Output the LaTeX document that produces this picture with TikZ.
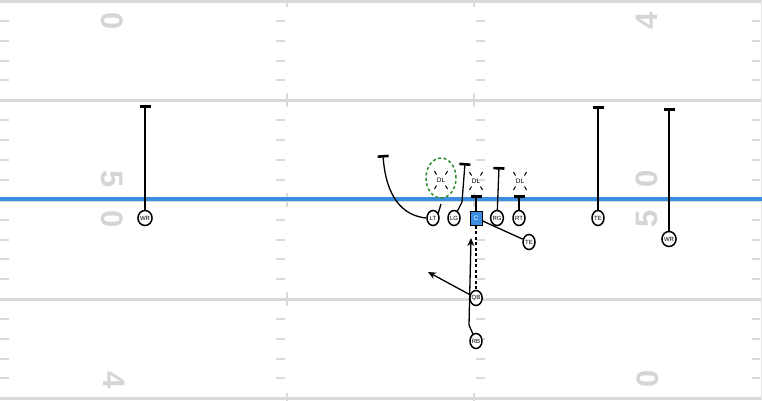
\documentclass[tikz,border=0pt]{standalone}
\usepackage{fontspec}
\setmainfont{Liberation Sans}
\usetikzlibrary{shapes.geometric,arrows.meta,calc}
\definecolor{fieldgray}{HTML}{D9D9D9}
\definecolor{hashgray}{HTML}{DADADA}
\definecolor{numgray}{HTML}{D5D5D5}
\definecolor{los}{HTML}{3A8FE3}
\definecolor{zonegreen}{HTML}{2E8B2E}
\pgfdeclarelayer{bg}
\pgfdeclarelayer{routes}
\pgfsetlayers{bg,routes,main}
\tikzset{
  yardline/.style={fieldgray, line width=3pt},
  hashmark/.style={hashgray, line width=2pt},
  ydtick/.style={hashgray, line width=1.2pt},
  num/.style={numgray, font=\fontsize{31}{31}\selectfont\bfseries, inner sep=0pt},
  player/.style={ellipse, draw, line width=1.5pt, fill=white, minimum width=12pt, minimum height=15pt, inner sep=0pt, font=\fontsize{6}{6}\selectfont},
  center/.style={rectangle, draw, line width=1pt, fill=los, text=white, minimum width=12pt, minimum height=14pt, inner sep=0pt, font=\fontsize{6.5}{6.5}\selectfont},
  defender/.style={inner sep=0pt, font=\fontsize{6.5}{6.5}\selectfont},
  route/.style={black, line width=1.3pt},
  blockend/.style={-{Bar[width=11pt,line width=2.6pt]}},
  runarrow/.style={-{Stealth[length=8pt,width=7pt]}},
  zone/.style={ellipse, draw=zonegreen, dash pattern=on 3pt off 2.5pt, line width=1.5pt, minimum width=30pt, minimum height=40pt, inner sep=0pt},
  motion/.style={black, line width=2.6pt, dash pattern=on 3pt off 2.5pt}
}
\begin{document}
\begin{tikzpicture}[x=1pt,y=-1pt]
\useasboundingbox (0,0) rectangle (762,400);
\begin{pgfonlayer}{bg}
\fill[white] (0,0) rectangle (762,400);
\foreach \y in {1.5,100,200,299,398.5} \draw[yardline] (0,\y) -- (762,\y);
\draw[fieldgray!70, line width=1pt] (761.5,0) -- (761.5,400);
\foreach \y in {21,41,61,80,120,140,160,180,220,240,259,279,319,339,359,378} {
  \draw[hashmark] (0,\y) -- (9,\y);
  \draw[hashmark] (276,\y) -- (285,\y);
  \draw[hashmark] (476,\y) -- (485,\y);
  \draw[hashmark] (752,\y) -- (760,\y);
}
\foreach \y in {0,100,200,299,400} {
  \draw[ydtick] (287,\y-7) -- (287,\y+7);
  \draw[ydtick] (474,\y-7) -- (474,\y+7);
}
\node[num, rotate=-90] (n1) at (112,21) {0};
\node[num, rotate=-90] (n2) at (112,179) {5};
\node[num, rotate=-90] (n3) at (112,219) {0};
\node[num, rotate=-90] (n4) at (114,380) {4};
\node[num, rotate=90] (n5) at (647,21) {4};
\node[num, rotate=90] (n6) at (647,179) {0};
\node[num, rotate=90] (n7) at (647,219) {5};
\node[num, rotate=90] (n8) at (648,379) {0};
\draw[los, line width=3.5pt] (0,199) -- (762,199);
\end{pgfonlayer}

% offense
\node[player] (wrl) at (145,218) {WR};
\node[player] (lt) at (433,218) {LT};
\node[player] (lg) at (454,218) {LG};
\node[center] (c) at (476,218) {C};
\node[player] (rg) at (497,218) {RG};
\node[player] (rt) at (519,218) {RT};
\node[player] (te2) at (529,242) {TE};
\node[player] (ter) at (598,218) {TE};
\node[player] (wrr) at (669,239) {WR};
\node[player] (qb) at (476,298) {QB};
\node[player] (rb) at (476,341) {RB};

% defense
\node[defender] (dl1) at (441,180) {DL};
\node[defender] (dl2) at (476,181) {DL};
\node[defender] (dl3) at (520,181) {DL};
\node[zone] (z1) at (441,178) {};

% route ends
\coordinate (wrlE) at (145,105);
\coordinate (ltE) at (383,155);
\coordinate (lgK) at (462,202);
\coordinate (lgE) at (465,163);
\coordinate (cE) at (476,195);
\coordinate (rgE) at (499,167);
\coordinate (rtE) at (519,195);
\coordinate (terE) at (598,106);
\coordinate (wrrE) at (669,108);
\coordinate (qbE) at (428,272);
\coordinate (rbK) at (469,325);
\coordinate (rbE) at (471,238);
\coordinate (tkA) at (438,214);
\coordinate (tkB) at (441,204);

\begin{pgfonlayer}{routes}
\foreach \d in {dl1,dl2,dl3} {
  \foreach \sx/\sy in {1/1,1/-1,-1/1,-1/-1}
    \draw[line width=1pt] ($(\d)+(\sx*4.5,\sy*5.5)$) -- ($(\d)+(\sx*6.5,\sy*9)$);
}
\draw[route, blockend] (wrl) -- (wrlE);
\draw[route, blockend] (lt.west) .. controls (395,215) and (385,185) .. (ltE);
\draw[route] (tkA) -- (tkB);
\draw[route, blockend] (lg) -- (lgK) -- (lgE);
\draw[route, blockend] (c) -- (cE);
\draw[route, blockend] (rg) -- (rgE);
\draw[route, blockend] (rt) -- (rtE);
\draw[route, blockend] (ter) -- (terE);
\draw[route, blockend] (wrr) -- (wrrE);
\draw[route] (c) -- (te2);
\draw[motion] (c) -- (qb);
\draw[route, runarrow] (qb) -- (qbE);
\draw[route, runarrow] (rb) -- (rbK) -- (rbE);
\end{pgfonlayer}
\end{tikzpicture}
\end{document}
